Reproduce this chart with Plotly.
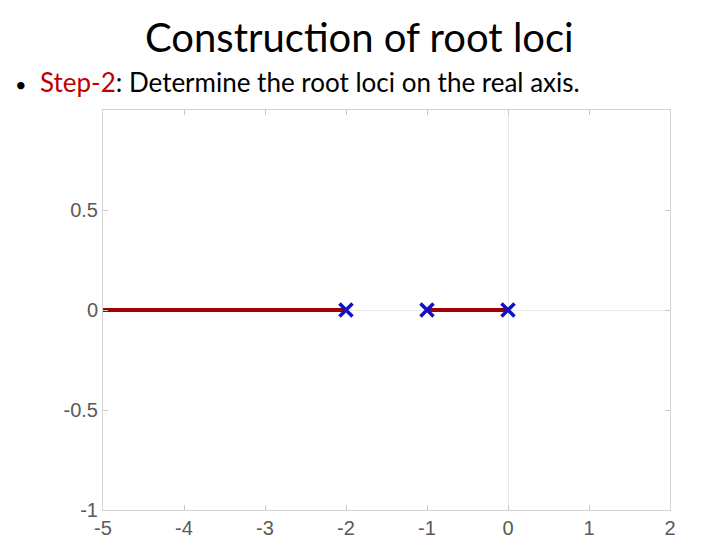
import plotly.graph_objects as go

# Data
pole_re = [-2, -1, 0]
pole_im = [0, 0, 0]
locus1_re = [-5, -2]
locus1_im = [0, 0]
locus2_re = [-1, 0]
locus2_im = [0, 0]
x_ticks = [-5, -4, -3, -2, -1, 0, 1, 2]
y_ticks = [-1, -0.5, 0, 0.5, 1]
y_ticklabels = ["-1", "-0.5", "0", "0.5", ""]

fig = go.Figure()
fig.add_trace(go.Scatter(x=locus1_re, y=locus1_im, mode="lines",
                         line=dict(color="#a00000", width=4), showlegend=False))
fig.add_trace(go.Scatter(x=locus2_re, y=locus2_im, mode="lines",
                         line=dict(color="#a00000", width=4), showlegend=False))
fig.add_trace(go.Scatter(x=pole_re, y=pole_im, mode="markers",
                         marker=dict(symbol="x-thin", size=13,
                                     line=dict(color="#1010c8", width=3.5)),
                         showlegend=False, cliponaxis=False))

axis_common = dict(showgrid=False, zeroline=True, zerolinecolor="#e8e8e8",
                   zerolinewidth=1, showline=True, linecolor="#d4d4d4",
                   linewidth=1, mirror="ticks", ticks="inside", ticklen=5,
                   tickcolor="#c8c8c8", automargin=False,
                   tickfont=dict(family="Liberation Sans, Arial", size=20, color="#5a5a5a"))

fig.update_xaxes(range=[-5, 2], tickvals=x_ticks,
                 ticktext=[str(v) for v in x_ticks], **axis_common)
fig.update_yaxes(range=[-1, 1], tickvals=y_ticks, ticktext=y_ticklabels,
                 **axis_common)

fig.update_layout(
    width=720, height=540,
    margin=dict(l=103, r=50, t=110, b=30),
    paper_bgcolor="white", plot_bgcolor="white",
    annotations=[
        dict(text="Construction of root loci", xref="paper", yref="paper",
             x=0.453, y=1.1825, xanchor="center", yanchor="middle",
             showarrow=False,
             font=dict(family="Lato, Carlito, sans-serif", size=40, color="black")),
        dict(text="<span style='font-size:20px'>•</span>  <span style='color:#c00000'>Step-2</span>: Determine the root loci on the real axis.",
             xref="paper", yref="paper", x=-0.159, y=1.07,
             xanchor="left", yanchor="middle", showarrow=False,
             font=dict(family="Lato, Carlito, sans-serif", size=26, color="black")),
    ],
)

fig.write_html("out.html", config={"displayModeBar": False},
               post_script="document.body.style.margin='0';")
